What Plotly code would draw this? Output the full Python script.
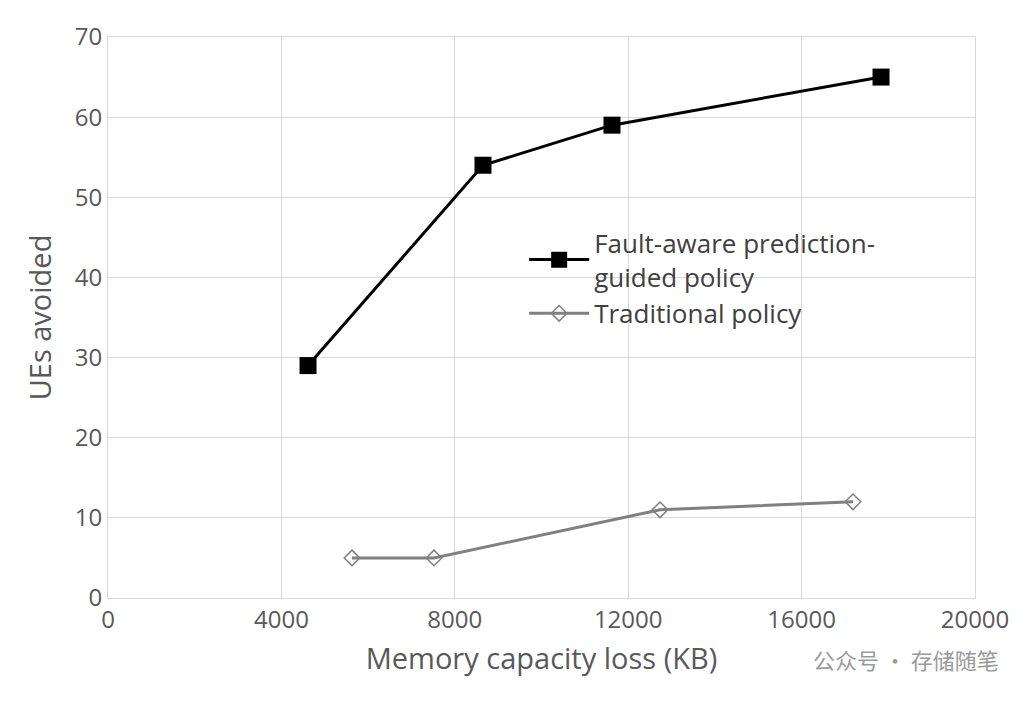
import plotly.graph_objects as go

fault_x = [4614, 8650, 11626, 17832]
fault_y = [29, 54, 59, 65]
trad_x = [5629, 7520, 12734, 17186]
trad_y = [5, 5, 11, 12]

fig = go.Figure()
fig.add_trace(go.Scatter(
    x=fault_x, y=fault_y, mode="lines+markers",
    name="Fault-aware prediction-<br>guided policy",
    line=dict(color="black", width=3),
    marker=dict(symbol="square", size=17, color="black"),
))
fig.add_trace(go.Scatter(
    x=trad_x, y=trad_y, mode="lines+markers",
    name="Traditional policy",
    line=dict(color="#808080", width=3),
    marker=dict(symbol="diamond-open", size=12, color="#808080", line=dict(width=1.5)),
))

fig.update_layout(
    width=1034, height=706,
    margin=dict(l=100, r=67, t=29, b=116),
    plot_bgcolor="white", paper_bgcolor="white",
    font=dict(family="Open Sans, Liberation Sans", size=24, color="#595959"),
    xaxis=dict(range=[0, 20000], dtick=4000, tickformat="d", showgrid=True, gridcolor="#d9d9d9",
               linecolor="#d9d9d9", mirror=True, showline=True, zeroline=False, ticks="",
               title=dict(text="Memory capacity loss (KB)", standoff=14)),
    yaxis=dict(range=[0, 70], dtick=10, showgrid=True, gridcolor="#d9d9d9",
               linecolor="#d9d9d9", mirror=True, showline=True,
               zeroline=False, ticks="", title=dict(text="UEs avoided", standoff=14)),
    legend=dict(x=0.48, y=0.675, xanchor="left", yanchor="top",
                bgcolor="rgba(255,255,255,0)", font=dict(size=26, color="#404040"),
                itemwidth=60, tracegroupgap=10),
    showlegend=True,
)
fig.add_annotation(text="公众号 · 存储随笔", xref="paper", yref="paper",
                   x=1.03, y=-0.14, xanchor="right", showarrow=False,
                   font=dict(family="Noto Sans CJK SC", size=22, color="#9a9a9a"))

fig.write_html("out.html")
